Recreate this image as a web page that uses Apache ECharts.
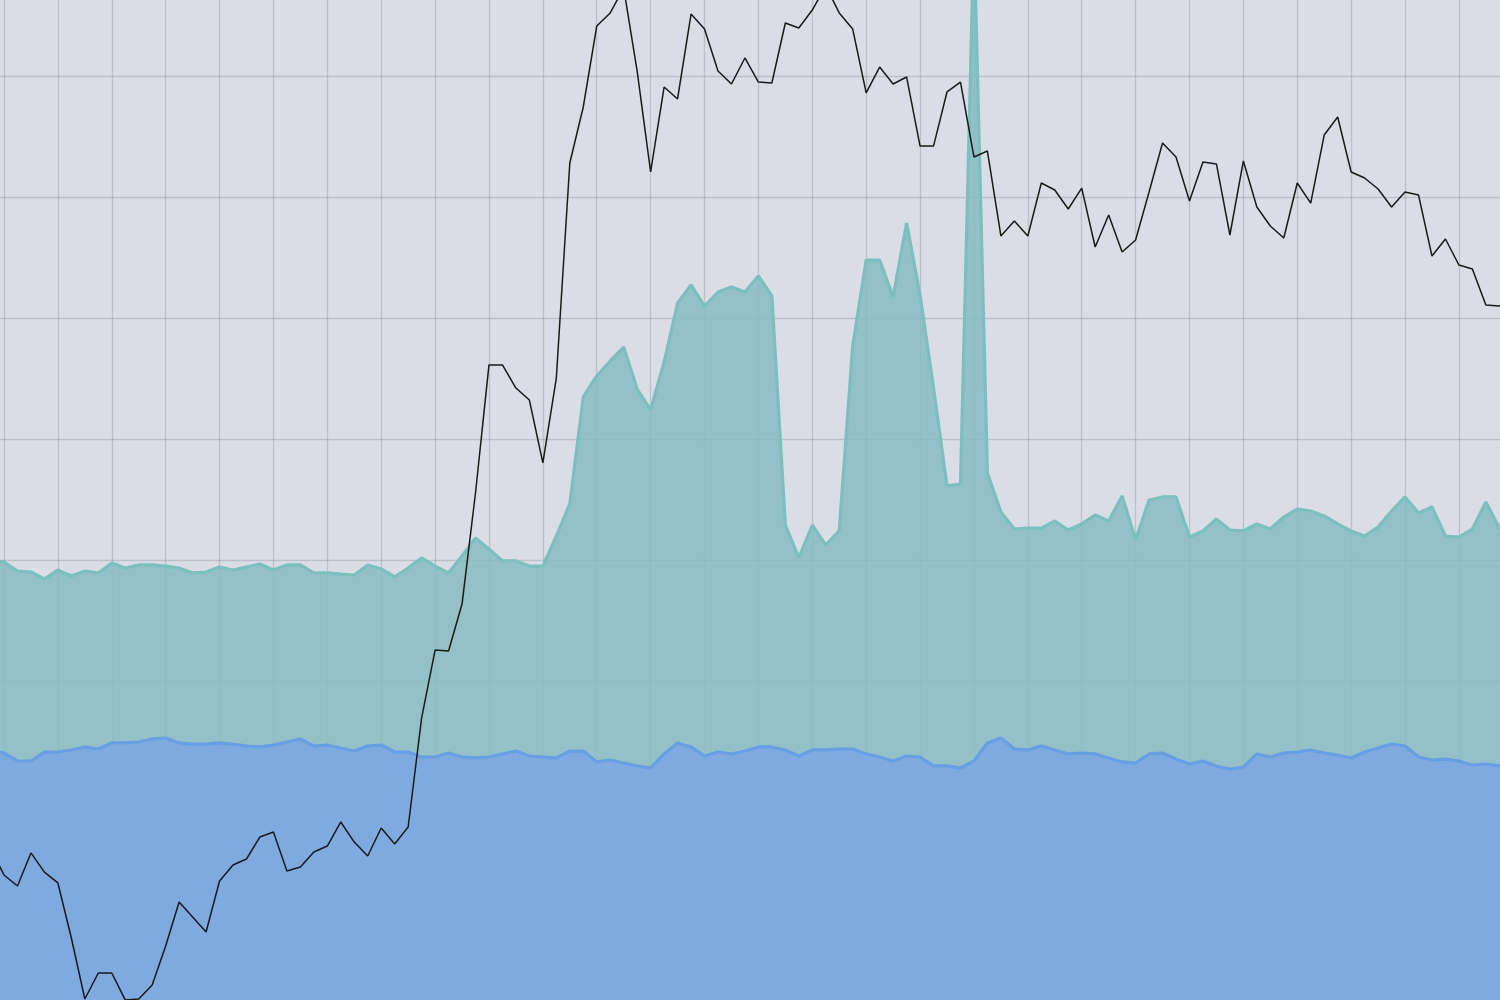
<!DOCTYPE html>
<html>
<head>
<meta charset="utf-8">
<script src="https://cdn.jsdelivr.net/npm/echarts@6/dist/echarts.min.js"></script>
<style>
  html, body { margin: 0; padding: 0; background: #dadde6; }
  #chart { width: 1500px; height: 1000px; }
</style>
</head>
<body>
<div id="chart"></div>
<script>
// Black line series (values in axis units, grid step = 100)
const blackLine = [
  162.0, 139.7, 130.6, 157.9, 142.1, 133.1, 87.6, 37.2, 58.7, 58.7,
  36.4, 37.2, 48.8, 81.0, 117.4, 105.0, 92.6, 134.7, 147.9, 152.9,
  171.1, 175.2, 143.0, 146.3, 158.7, 163.6, 183.5, 166.9, 155.4, 178.5,
  165.3, 179.3, 269.4, 325.6, 324.8, 363.6, 455.4, 561.2, 561.2, 542.1,
  532.2, 480.2, 550.4, 728.1, 774.4, 841.3, 852.1, 872.7, 804.1, 720.7,
  790.9, 781.0, 851.2, 838.8, 804.1, 793.4, 814.9, 795.0, 794.2, 843.8,
  839.7, 854.5, 874.4, 852.1, 838.8, 786.0, 807.4, 793.4, 799.2, 742.1,
  742.1, 786.8, 795.0, 733.1, 738.0, 667.8, 680.2, 667.8, 711.6, 705.8,
  690.1, 707.4, 658.7, 685.1, 654.5, 664.5, 704.1, 744.6, 733.1, 696.7,
  728.9, 727.3, 668.6, 729.8, 691.7, 676.0, 666.1, 711.6, 695.0, 751.2,
  766.1, 720.7, 715.7, 706.6, 691.7, 704.1, 701.7, 651.2, 665.3, 643.8,
  640.5, 610.7, 609.9, 606.6
];
// Teal area series
const tealArea = [
  400.0, 398.3, 390.9, 390.1, 384.3, 391.7, 386.8, 390.9, 389.3, 397.5,
  393.4, 395.9, 395.9, 395.0, 393.4, 389.3, 390.1, 394.2, 391.7, 394.2,
  396.7, 391.7, 395.9, 395.9, 389.3, 389.3, 388.4, 387.6, 395.9, 392.6,
  386.0, 393.4, 401.7, 395.0, 389.3, 403.3, 418.2, 409.1, 399.2, 399.2,
  395.0, 395.0, 419.8, 446.3, 534.7, 552.1, 564.5, 576.0, 541.3, 524.0,
  563.6, 612.4, 627.3, 609.9, 621.5, 625.6, 621.5, 634.7, 618.2, 428.9,
  401.7, 428.9, 412.4, 424.0, 576.9, 647.9, 647.9, 617.4, 678.5, 619.0,
  542.1, 461.2, 462.8, 919.0, 471.9, 439.7, 425.6, 426.4, 426.4, 432.2,
  424.8, 429.8, 437.2, 432.2, 452.9, 416.5, 449.6, 452.1, 452.1, 419.0,
  424.0, 433.9, 424.8, 424.0, 429.8, 425.6, 435.5, 442.1, 440.5, 436.4,
  429.8, 424.0, 419.8, 427.3, 440.5, 452.1, 438.8, 443.8, 419.8, 419.0,
  425.6, 447.9, 426.4, 420.7
];
// Blue area series
const blueArea = [
  243.0, 240.5, 233.9, 233.9, 241.3, 241.3, 243.0, 245.5, 243.8, 248.8,
  248.8, 249.6, 252.1, 252.9, 248.8, 247.9, 247.9, 248.8, 247.9, 246.3,
  245.5, 247.1, 249.6, 252.1, 246.3, 247.1, 244.6, 242.1, 246.3, 247.1,
  241.3, 241.3, 237.2, 237.2, 240.5, 237.2, 236.4, 237.2, 239.7, 242.1,
  238.0, 237.2, 236.4, 242.1, 242.1, 233.1, 234.7, 232.2, 229.8, 228.1,
  239.7, 248.8, 245.5, 238.0, 241.3, 239.7, 242.1, 245.5, 245.5, 243.0,
  238.0, 243.0, 243.0, 243.8, 243.8, 239.7, 237.2, 233.9, 238.0, 237.2,
  229.8, 229.8, 228.1, 233.9, 248.8, 252.9, 243.8, 243.0, 246.3, 243.0,
  239.7, 240.5, 239.7, 236.4, 233.1, 232.2, 239.7, 240.5, 235.5, 231.4,
  233.9, 229.8, 227.3, 228.9, 239.7, 237.2, 240.5, 241.3, 243.0, 240.5,
  238.8, 236.4, 241.3, 244.6, 247.9, 246.3, 237.2, 234.7, 235.5, 233.9,
  230.6, 231.4, 229.8, 229.8
];
// Category labels (not shown in the picture)
const categories = blackLine.map((_, i) => String(i + 1));
const yTicks = { min: 0, max: 900, interval: 100 };

const chart = echarts.init(document.getElementById('chart'), null, { renderer: 'canvas' });
chart.setOption({
  animation: false,
  backgroundColor: '#dadde6',
  grid: { left: -9.47, right: -12.8, top: -45, bottom: -44, containLabel: false, outerBoundsMode: 'none' },
  xAxis: {
    type: 'category',
    data: categories,
    boundaryGap: false,
    axisLine: { show: false },
    axisTick: { show: false },
    axisLabel: { show: false },
    splitLine: {
      show: true,
      interval: function (idx) { return idx % 4 === 1; },
      lineStyle: { color: 'rgba(0,0,0,0.13)', width: 1.3 }
    }
  },
  yAxis: {
    type: 'value',
    min: yTicks.min,
    max: yTicks.max,
    interval: yTicks.interval,
    axisLine: { show: false },
    axisTick: { show: false },
    axisLabel: { show: false },
    splitLine: { show: true, lineStyle: { color: 'rgba(0,0,0,0.13)', width: 1.3 } }
  },
  series: [
    {
      type: 'line',
      data: tealArea,
      showSymbol: false,
      lineStyle: { color: '#7bbfbe', width: 3.2 },
      areaStyle: { color: '#82bbbf', opacity: 0.82 },
      z: 2
    },
    {
      type: 'line',
      data: blueArea,
      showSymbol: false,
      lineStyle: { color: '#689fe4', width: 3.2 },
      areaStyle: { color: '#7aa6e4', opacity: 0.85 },
      z: 3
    },
    {
      type: 'line',
      data: blackLine,
      showSymbol: false,
      lineStyle: { color: '#1a1a1a', width: 1.5 },
      z: 4
    }
  ]
});
</script>
</body>
</html>
